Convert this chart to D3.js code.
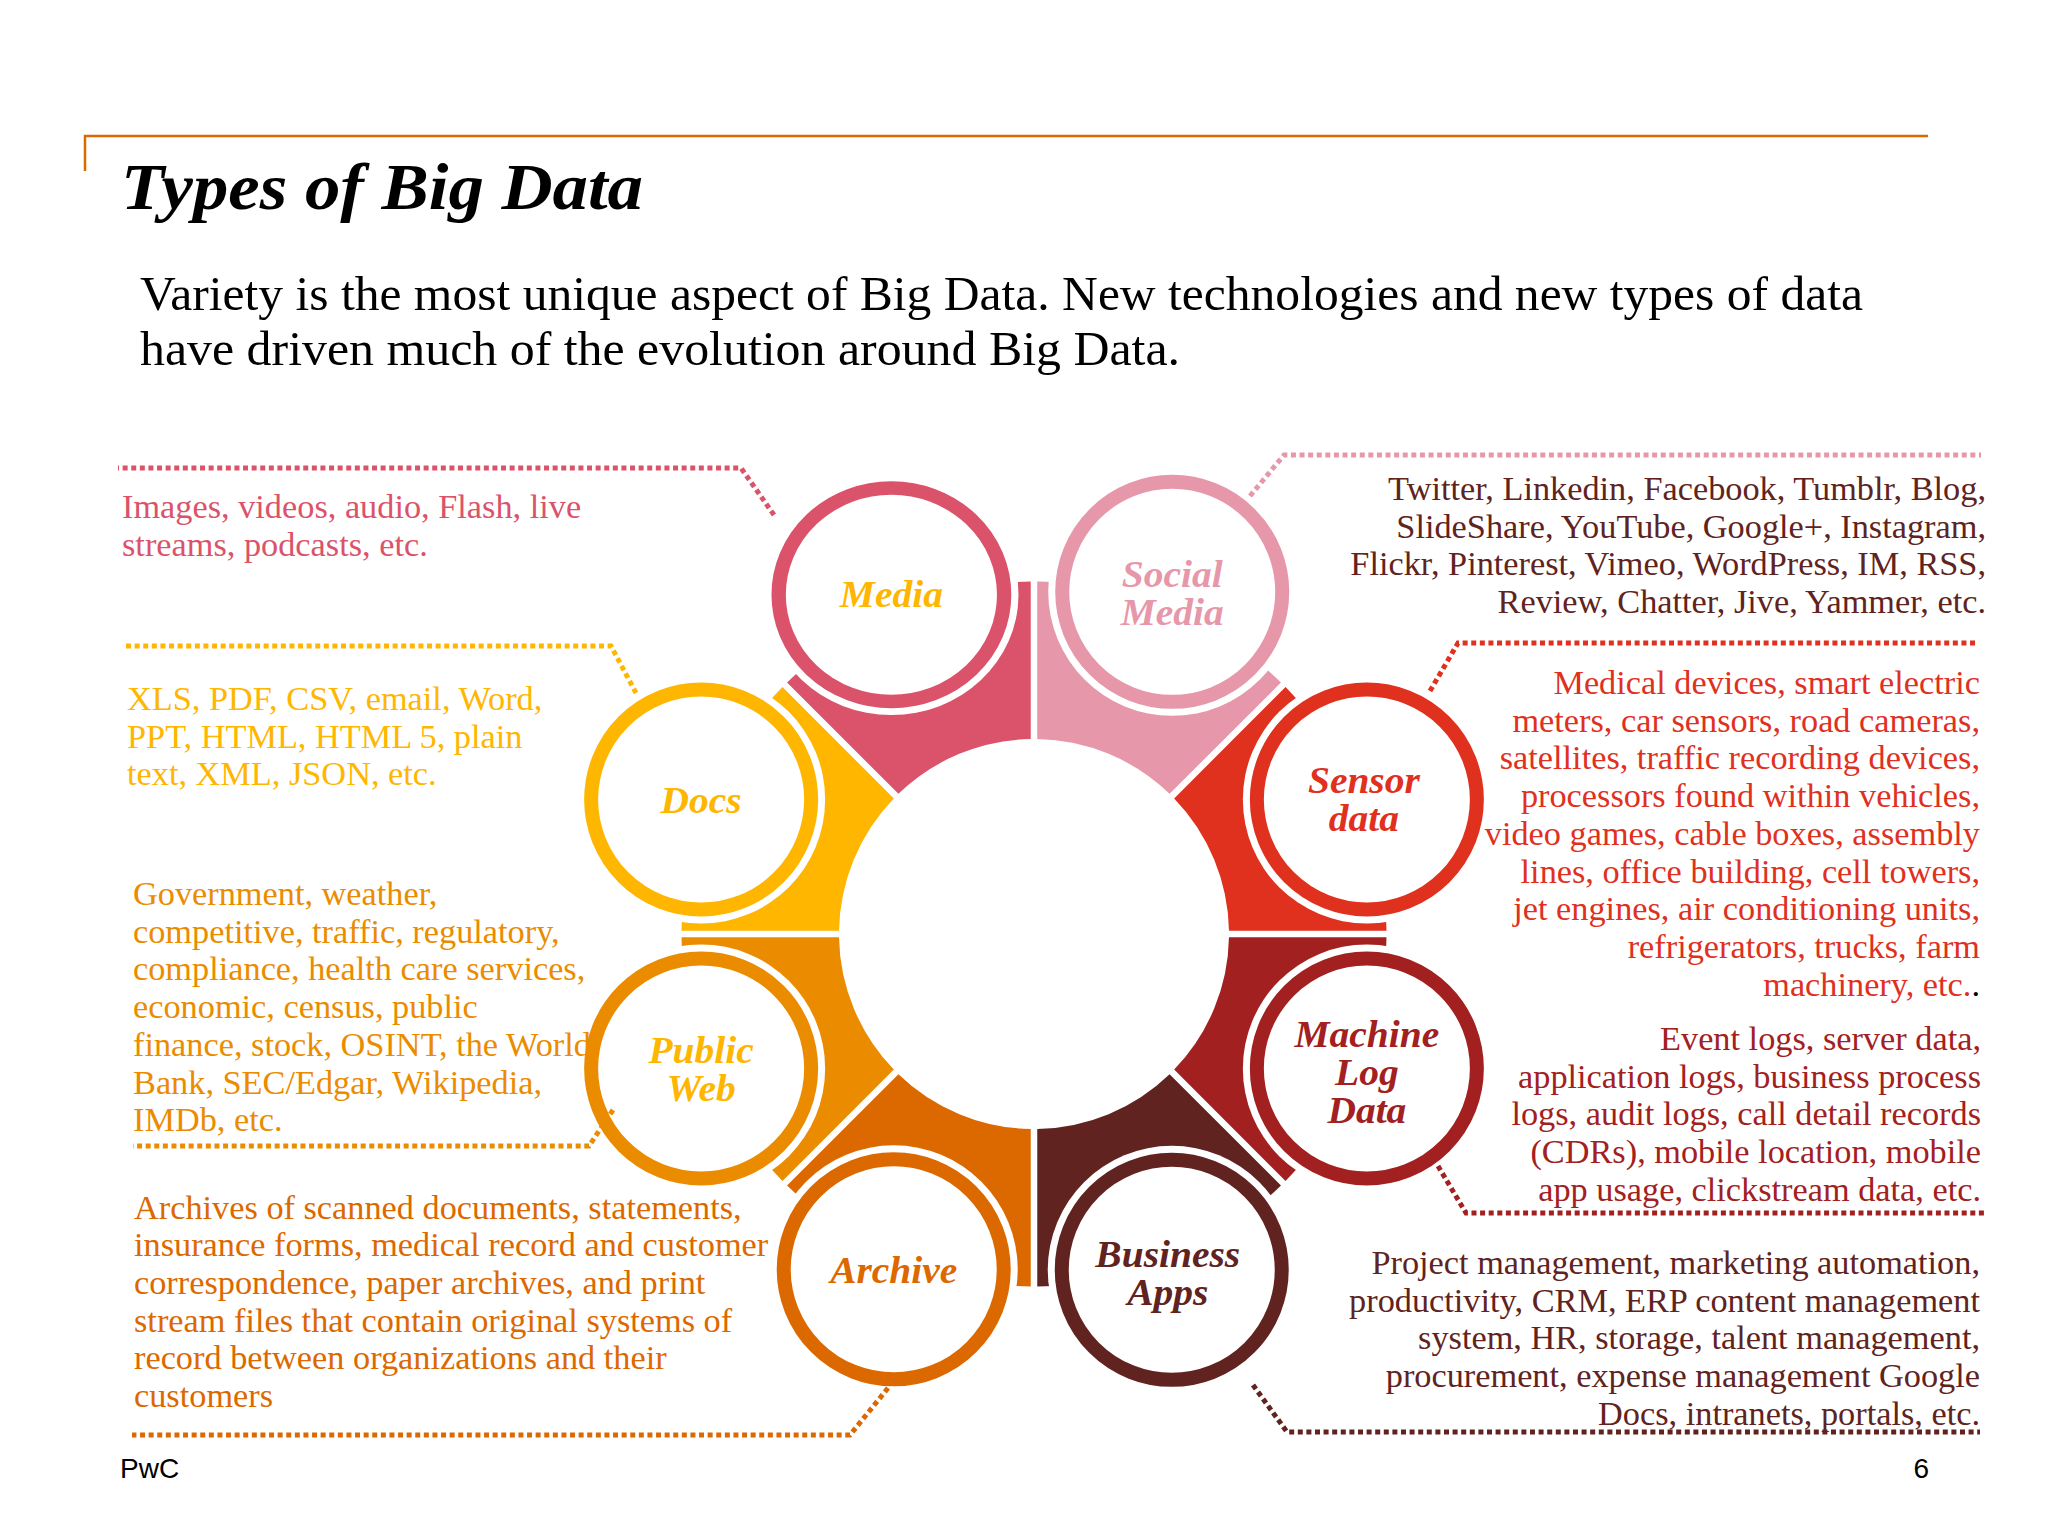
<!DOCTYPE html>
<html>
<head>
<meta charset="utf-8">
<script src="https://cdn.jsdelivr.net/npm/d3@7"></script>
<style>
  html, body { margin: 0; padding: 0; background: #fff; }
  text { font-family: "Liberation Serif", serif; }
</style>
</head>
<body>
<div id="chart"></div>
<script>
// clockwise from 12 o'clock
var categories = ["Social Media", "Sensor data", "Machine Log Data", "Business Apps", "Archive", "Public Web", "Docs", "Media"]
var shares = [1, 1, 1, 1, 1, 1, 1, 1]
var colors = ["#E797AA", "#E0301E", "#A32020", "#602320", "#DC6900", "#EB8C00", "#FFB600", "#DB536A"]
var labelColors = ["#E797AA", "#E0301E", "#A32020", "#602320", "#DC6900", "#FFB600", "#FFB600", "#FFB600"]
var labelLines = [["Social", "Media"], ["Sensor", "data"], ["Machine", "Log", "Data"], ["Business", "Apps"], ["Archive"], ["Public", "Web"], ["Docs"], ["Media"]]
var textColors = ["#602320", "#E0301E", "#A32020", "#602320", "#DC6900", "#EB8C00", "#FFB600", "#DB536A"]
var descLines = [
  ["Twitter, Linkedin, Facebook, Tumblr, Blog,", "SlideShare, YouTube, Google+, Instagram,", "Flickr, Pinterest, Vimeo, WordPress, IM, RSS,", "Review, Chatter, Jive, Yammer, etc."],
  ["Medical devices, smart electric", "meters, car sensors, road cameras,", "satellites, traffic recording devices,", "processors found within vehicles,", "video games, cable boxes, assembly", "lines, office building, cell towers,", "jet engines, air conditioning units,", "refrigerators, trucks, farm", "machinery, etc.."],
  ["Event logs, server data,", "application logs, business process", "logs, audit logs, call detail records", "(CDRs), mobile location, mobile", "app usage, clickstream data, etc."],
  ["Project management, marketing automation,", "productivity, CRM, ERP content management", "system, HR, storage, talent management,", "procurement, expense management Google", "Docs, intranets, portals, etc."],
  ["Archives of scanned documents, statements,", "insurance forms, medical record and customer", "correspondence, paper archives, and print", "stream files that contain original systems of", "record between organizations and their", "customers"],
  ["Government, weather,", "competitive, traffic, regulatory,", "compliance, health care services,", "economic, census, public", "finance, stock, OSINT, the World", "Bank, SEC/Edgar, Wikipedia,", "IMDb, etc."],
  ["XLS, PDF, CSV, email, Word,", "PPT, HTML, HTML 5, plain", "text, XML, JSON, etc."],
  ["Images, videos, audio, Flash, live", "streams, podcasts, etc."]
]
var titleText = "Types of Big Data"
var introLines = ["Variety is the most unique aspect of Big Data. New technologies and new types of data", "have driven much of the evolution around Big Data."]
var footerLeft = "PwC"
var footerRight = "6"

// layout, per category
var satDist = [369, 359, 359, 363, 363.5, 359, 359, 368]
var satTilt = [-0.5, 0.5, -0.5, 0.2, 0.2, 0.5, -0.5, -0.3]
var stretchX = [1, 1, 1, 1, 1, 1, 1, 1.025]
var stretchY = [1, 1, 1, 1, 1, 1, 1, 0.97]
var labelDx = [0, -3, 0, -4, 0, 0, 0, 0]
var labelDy = [1, -1, 3, 3, 0, 0, 0, -1]
var descX = [1986, 1980, 1981, 1980, 134, 133, 127, 122]
var descAnchor = ["end", "end", "end", "end", "start", "start", "start", "start"]
var descY = [500, 694, 1050, 1274, 1218.5, 905, 710, 518]
var leaders = [
  [[1250, 496], [1284, 455], [1981, 455]],
  [[1430, 691], [1458, 643], [1977, 643]],
  [[1438, 1166], [1466, 1213], [1985, 1213]],
  [[1253, 1385], [1287, 1432], [1980, 1432]],
  [[888, 1388], [850, 1435], [132, 1435]],
  [[613, 1110], [589, 1146], [133, 1146]],
  [[636, 693], [611, 646], [123, 646]],
  [[774, 515], [741, 468], [118, 468]]
]

var WIDTH = 2048, HEIGHT = 1536
var cx = 1034, cy = 934
var innerR = 195, outerR = 352.5, gap = 6.5
var ringR = 110, ringW = 14, haloR = 124
var lineH = 37.7, labelH = 38
var labelSize = 37, labelWiden = 1.067

var svg = d3.select("#chart").append("svg")
  .attr("width", WIDTH)
  .attr("height", HEIGHT)
  .style("display", "block")

// header rule
svg.append("path")
  .attr("d", d3.line()([[85, 171], [85, 136], [1928, 136]]))
  .attr("fill", "none")
  .attr("stroke", "#DC6900")
  .attr("stroke-width", 2.5)

svg.append("text")
  .attr("x", 121).attr("y", 209)
  .attr("font-size", 66)
  .attr("font-weight", "bold")
  .attr("font-style", "italic")
  .attr("textLength", 522)
  .attr("lengthAdjust", "spacingAndGlyphs")
  .text(titleText)

var introWidths = [1723, 1040]
svg.selectAll(".intro").data(introLines).enter().append("text")
  .attr("class", "intro")
  .attr("x", 140)
  .attr("y", function(d, i) { return 310 + i * 55 })
  .attr("font-size", 48)
  .attr("textLength", function(d, i) { return introWidths[i] })
  .attr("lengthAdjust", "spacingAndGlyphs")
  .text(function(d) { return d })

var pie = d3.pie().sort(null)
var arc = d3.arc()
  .innerRadius(innerR)
  .outerRadius(outerR)
  .padAngle(gap / outerR)
  .padRadius(outerR)

var arcs = pie(shares)
var g = svg.append("g").attr("transform", "translate(" + cx + "," + cy + ")")

g.selectAll(".wedge").data(arcs).enter().append("path")
  .attr("class", "wedge")
  .attr("d", arc)
  .attr("fill", function(d, i) { return colors[i] })

function satPos(d, i) {
  var a = (d.startAngle + d.endAngle) / 2 + satTilt[i] * Math.PI / 180
  return [satDist[i] * Math.sin(a), -satDist[i] * Math.cos(a)]
}
function satTransform(d, i) {
  var p = satPos(d, i)
  return "translate(" + p[0] + "," + p[1] + ") scale(" + stretchX[i] + "," + stretchY[i] + ")"
}

g.selectAll(".halo").data(arcs).enter().append("circle")
  .attr("class", "halo")
  .attr("r", haloR)
  .attr("fill", "#fff")
  .attr("transform", satTransform)

// leaders run under the ring strokes
categories.forEach(function(c, i) {
  svg.append("path")
    .attr("d", d3.line()(leaders[i]))
    .attr("fill", "none")
    .attr("stroke", colors[i])
    .attr("stroke-width", 5)
    .attr("stroke-dasharray", "5 3.6")
})

g.selectAll(".ring").data(arcs).enter().append("circle")
  .attr("class", "ring")
  .attr("r", ringR)
  .attr("fill", "none")
  .attr("stroke", function(d, i) { return colors[i] })
  .attr("stroke-width", ringW)
  .attr("transform", satTransform)

arcs.forEach(function(d, i) {
  var p = satPos(d, i)
  var lines = labelLines[i]
  var first = p[1] + 13.5 + labelDy[i] - (lines.length - 1) * labelH / 2
  g.selectAll(".label" + i).data(lines).enter().append("text")
    .attr("class", "label" + i)
    .attr("transform", function(l, j) {
      return "translate(" + (p[0] + labelDx[i]) + "," + (first + j * labelH) + ") scale(" + labelWiden + ",1)"
    })
    .attr("text-anchor", "middle")
    .attr("font-size", labelSize)
    .attr("font-weight", "bold")
    .attr("font-style", "italic")
    .attr("fill", labelColors[i])
    .text(function(l) { return l })
})

// description blocks last, a few line ends touch the rings
categories.forEach(function(c, i) {
  svg.selectAll(".desc" + i).data(descLines[i]).enter().append("text")
    .attr("class", "desc" + i)
    .attr("x", descX[i])
    .attr("y", function(d, j) { return descY[i] + j * lineH })
    .attr("text-anchor", descAnchor[i])
    .attr("font-size", 34.3)
    .attr("fill", textColors[i])
    .each(function(d) {
      // a stray second full stop in the slide is black
      var stray = d.slice(-2) == ".."
      var t = d3.select(this)
      t.append("tspan").text(stray ? d.slice(0, -1) : d)
      if (stray) t.append("tspan").attr("fill", "#000").text(".")
    })
})

svg.append("text")
  .attr("x", 120).attr("y", 1478)
  .attr("font-size", 28)
  .style("font-family", "'Liberation Sans', sans-serif")
  .text(footerLeft)

svg.append("text")
  .attr("x", 1929).attr("y", 1478)
  .attr("text-anchor", "end")
  .attr("font-size", 28)
  .style("font-family", "'Liberation Sans', sans-serif")
  .text(footerRight)
</script>
</body>
</html>
